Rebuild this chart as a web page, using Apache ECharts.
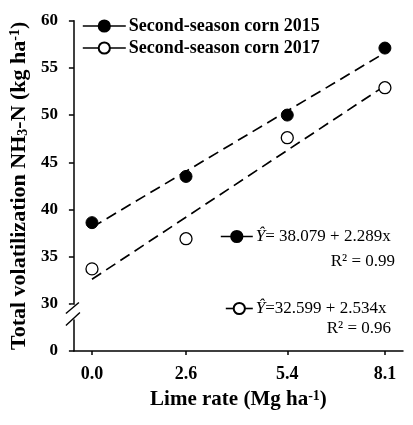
<!DOCTYPE html>
<html>
<head>
<meta charset="utf-8">
<script src="https://cdn.jsdelivr.net/npm/echarts@6/dist/echarts.min.js"></script>
<style>
html,body{margin:0;padding:0;background:#fff;}
#c{width:413px;height:425px;}
</style>
</head>
<body>
<div id="c"></div>
<script>
// ---- data ----
const limeRates = [0, 2.6, 5.4, 8.1];
const nh3_2015 = [38.6, 43.5, 50.0, 57.1];
const nh3_2017 = [33.7, 36.9, 47.6, 52.9];
const fitX = [0, 8.1];
const fit2015 = [38.1, 56.6];
const fit2017 = [32.6, 53.1];
const seriesNames = ['Second-season corn 2015', 'Second-season corn 2017'];
const xTickLabels = ['0.0', '2.6', '5.4', '8.1'];
const yBreakValue = 25;      // axis position that carries the "0" label
const yBreakLabel = '0';
const eqTexts = ['= 38.079 + 2.289x', '=32.599 + 2.534x'];
const r2Texts = ['R\u00B2 = 0.99', 'R\u00B2 = 0.96'];

const FONT = "'Liberation Serif','Times New Roman',serif";
const pairs = (xs, ys) => xs.map((x, i) => [x, ys[i]]);

const chart = echarts.init(document.getElementById('c'), null, {renderer: 'canvas'});

const eqLegend = (i, left, top, w) => ({
  show: true,
  orient: 'vertical',
  left: left, top: top,
  selectedMode: false,
  data: [seriesNames[i]],
  itemWidth: w, itemHeight: 14,
  padding: 0,
  lineStyle: {width: 1.6, color: '#000', type: 'solid', opacity: 1},
  formatter: () => '{i|\u0176}' + eqTexts[i],
  textStyle: {
    fontFamily: FONT, fontSize: 17, color: '#000', padding: [0, 0, 0, -2],
    rich: {i: {fontFamily: FONT, fontSize: 17, fontStyle: 'italic', color: '#000'}}
  }
});

const option = {
  animation: false,
  backgroundColor: '#fff',
  grid: {left: 71, right: 10, top: 20.7, bottom: 74, containLabel: false},
  legend: [
    {
      orient: 'vertical',
      left: 82, top: 17,
      selectedMode: false,
      data: seriesNames,
      itemWidth: 43, itemHeight: 14,
      itemGap: 4,
      padding: 0,
      lineStyle: {width: 1.6, color: '#000', type: 'solid', opacity: 1},
      textStyle: {fontFamily: FONT, fontSize: 18, fontWeight: 'bold', color: '#000', lineHeight: 18, padding: [0, 0, 0, -2]}
    },
    eqLegend(0, 220, 228, 32),
    eqLegend(1, 225, 300, 27)
  ],
  xAxis: {
    type: 'value',
    min: -0.5, max: 8.6,
    name: 'Lime rate (Mg ha{sup|-1})',
    nameLocation: 'middle',
    nameGap: 38,
    nameTextStyle: {
      fontFamily: FONT, fontSize: 21, fontWeight: 'bold', color: '#000',
      rich: {sup: {fontFamily: FONT, fontSize: 14, fontWeight: 'bold', color: '#000', verticalAlign: 'top'}}
    },
    splitLine: {show: false},
    axisLine: {show: true, onZero: false, lineStyle: {color: '#000', width: 1.5}},
    axisTick: {show: true, inside: false, length: 4, customValues: limeRates, lineStyle: {color: '#000', width: 1.5}},
    axisLabel: {
      customValues: limeRates,
      formatter: (v) => xTickLabels[limeRates.indexOf(v)] ?? v.toFixed(1),
      fontFamily: FONT, fontSize: 18, fontWeight: 'bold', color: '#000', margin: 14
    }
  },
  yAxis: {
    type: 'value',
    min: 25, max: 60, interval: 5,
    name: 'Total volatilization NH{sub|3}-N (kg ha{sup|-1})',
    nameLocation: 'middle',
    nameRotate: 90,
    nameGap: 37,
    nameTextStyle: {
      fontFamily: FONT, fontSize: 22, fontWeight: 'bold', color: '#000',
      rich: {
        sub: {fontFamily: FONT, fontSize: 14, fontWeight: 'bold', color: '#000', verticalAlign: 'bottom'},
        sup: {fontFamily: FONT, fontSize: 14, fontWeight: 'bold', color: '#000', verticalAlign: 'top'}
      }
    },
    splitLine: {show: false},
    axisLine: {show: true, onZero: false, lineStyle: {color: '#000', width: 1.5}},
    axisTick: {show: true, inside: false, length: 5, lineStyle: {color: '#000', width: 1.5}},
    axisLabel: {
      formatter: (v) => v === yBreakValue ? yBreakLabel : String(v),
      fontFamily: FONT, fontSize: 17, fontWeight: 'bold', color: '#000', margin: 16
    }
  },
  series: [
    {
      name: 'fit2015', type: 'line', data: pairs(fitX, fit2015),
      symbol: 'none', silent: true, z: 1,
      lineStyle: {color: '#000', width: 1.7, type: [11, 6]}
    },
    {
      name: 'fit2017', type: 'line', data: pairs(fitX, fit2017),
      symbol: 'none', silent: true, z: 1,
      lineStyle: {color: '#000', width: 1.7, type: [11, 6]}
    },
    {
      name: seriesNames[0], type: 'line', data: pairs(limeRates, nh3_2015),
      symbol: 'circle', symbolSize: 12, z: 3,
      lineStyle: {width: 0, color: '#000'},
      itemStyle: {color: '#000', borderColor: '#000', borderWidth: 1}
    },
    {
      name: seriesNames[1], type: 'line', data: pairs(limeRates, nh3_2017),
      symbol: 'circle', symbolSize: 12, z: 3,
      lineStyle: {width: 0, color: '#000'},
      itemStyle: {color: '#fff', borderColor: '#000', borderWidth: 1.3}
    }
  ]
};
chart.setOption(option);

// axis break marks and equation R² lines (decorations positioned from the axes)
function decorate() {
  const pTop = chart.convertToPixel({gridIndex: 0}, [-0.5, 30]);
  const pBot = chart.convertToPixel({gridIndex: 0}, [-0.5, yBreakValue]);
  const ax = pTop[0], y30 = pTop[1];
  const d = pBot[1] - y30;
  const s1 = y30 + 0.08 * d, s2 = y30 + 0.31 * d;
  chart.setOption({
    graphic: [
      {type: 'rect', z: 100, shape: {x: ax - 3, y: y30 + 1, width: 6, height: 0.31 * d}, style: {fill: '#fff'}},
      {type: 'line', z: 101, shape: {x1: ax - 8, y1: s1 + 6, x2: ax + 5, y2: s1 - 5}, style: {stroke: '#000', lineWidth: 1.4}},
      {type: 'line', z: 101, shape: {x1: ax - 8, y1: s2 + 7, x2: ax + 6, y2: s2 - 6}, style: {stroke: '#000', lineWidth: 1.4}},
      {type: 'text', z: 50, x: 395, y: 261.7, style: {text: r2Texts[0], font: '17px ' + FONT, fill: '#000', align: 'right', verticalAlign: 'middle'}},
      {type: 'text', z: 50, x: 391, y: 328.3, style: {text: r2Texts[1], font: '17px ' + FONT, fill: '#000', align: 'right', verticalAlign: 'middle'}}
    ]
  });
}
decorate();
</script>
</body>
</html>
